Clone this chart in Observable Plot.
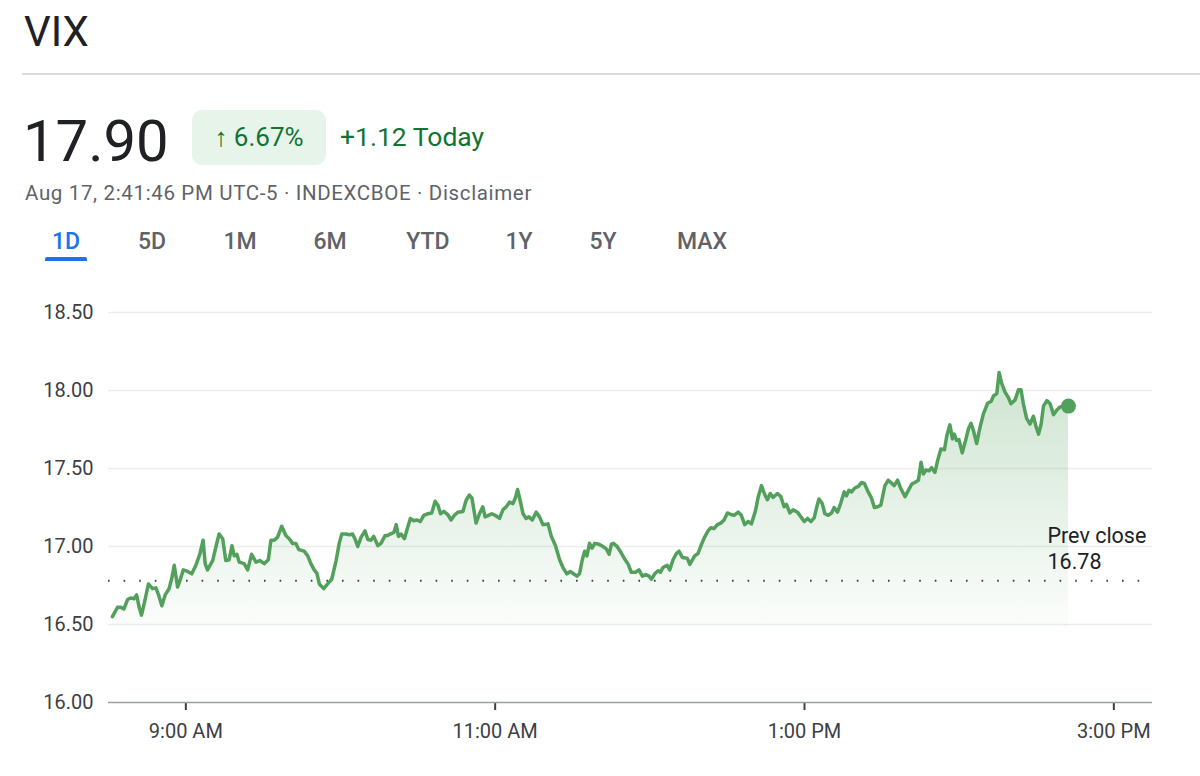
<!DOCTYPE html>
<html><head><meta charset="utf-8">
<script src="https://cdn.jsdelivr.net/npm/d3@7"></script>
<script src="https://cdn.jsdelivr.net/npm/@observablehq/plot@0.6"></script>
<style>
body{margin:0;background:#fff;width:1200px;height:776px;overflow:hidden;position:relative;font-family:Roboto,Arial,sans-serif;color:#202124}
.abs{position:absolute;white-space:nowrap;line-height:1}
.tab{position:absolute;top:230px;font-size:23px;font-weight:500;color:#5f6368;line-height:1;transform:translateX(-50%)}
</style></head><body>
<script>
// ---- data ----
const symbol = "VIX";
const lastPrice = "17.90";
const pctChange = "6.67%";
const absChange = "+1.12 Today";
const stamp = "Aug 17, 2:41:46 PM UTC-5 · INDEXCBOE · Disclaimer";
const tabs = ["1D", "5D", "1M", "6M", "YTD", "1Y", "5Y", "MAX"];
const prevClose = 16.78;
const yTicks = [16.00, 16.50, 17.00, 17.50, 18.00, 18.50];
const xTickHours = [9, 11, 13, 15];
// minutes after the 8:30 AM open
const minutes = [1.5,3.5,4.8,6.0,7.4,8.6,9.9,10.9,11.9,12.8,13.8,15.5,17.1,18.4,19.4,20.7,22.0,23.5,24.6,25.5,26.8,27.7,29.0,30.7,32.3,33.9,35.4,36.7,37.5,38.4,40.4,41.7,42.9,44.3,45.5,46.8,47.9,48.8,49.8,50.7,52.6,54.0,55.5,57.2,58.7,60.4,62.0,63.0,64.3,65.6,67.2,68.8,70.1,71.4,72.7,73.8,75.9,77.3,78.5,79.8,80.8,81.8,83.5,85.0,86.6,88.3,89.5,90.5,92.1,93.4,94.7,95.6,96.7,98.0,99.5,100.6,101.8,102.9,104.5,105.7,107.3,108.3,109.3,110.7,111.6,112.5,113.5,114.8,116.1,117.1,118.4,119.7,121.0,122.3,123.9,125.4,126.7,127.8,128.8,130.1,131.6,132.9,134.2,135.5,137.5,138.7,140.0,141.0,142.0,142.6,143.9,145.2,146.1,147.4,148.7,150.0,151.7,153.0,154.3,155.6,156.9,157.9,158.7,159.7,160.8,162.0,163.1,164.4,165.9,167.2,168.5,170.5,171.8,173.4,175.0,176.3,177.8,179.1,180.4,181.7,182.7,183.8,184.7,185.6,186.6,187.6,188.6,190.3,191.8,193.1,194.2,195.1,195.9,197.3,198.5,200.2,201.5,202.8,204.5,205.8,207.1,208.4,209.7,210.6,211.9,213.2,214.1,215.1,216.7,217.7,219.0,220.3,221.3,222.6,224.5,225.5,227.4,228.7,229.7,231.1,232.6,233.6,234.9,236.2,237.5,238.8,240.1,241.4,242.7,244.3,245.5,246.8,248.1,249.4,251.0,252.0,253.3,254.4,255.6,256.7,257.8,259.5,260.8,262.1,263.0,264.3,265.6,267.3,268.6,269.9,271.2,272.5,273.8,274.7,275.6,276.9,277.9,279.2,280.5,281.5,282.8,284.1,285.4,286.3,287.2,288.3,289.5,290.9,292.1,293.2,294.7,296.0,297.1,298.4,299.6,301.2,302.5,303.8,304.8,306.1,307.4,309.0,310.3,311.6,312.8,314.2,315.2,316.1,317.1,318.3,319.3,320.6,321.7,322.9,324.3,325.2,326.4,327.4,328.1,329.0,329.9,331.2,332.5,333.6,334.6,335.5,336.8,338.1,339.4,341.1,342.4,343.3,344.6,345.5,346.5,347.8,349.1,350.1,351.7,353.0,354.0,354.9,356.2,357.5,358.8,359.7,360.8,361.8,362.7,364.0,365.3,366.6,367.9,369.2,370.5,372.4];
const values = [16.55,16.61,16.61,16.60,16.66,16.67,16.665,16.69,16.61,16.56,16.63,16.76,16.73,16.735,16.69,16.62,16.69,16.73,16.80,16.88,16.74,16.78,16.85,16.84,16.825,16.88,16.95,17.04,16.89,16.85,16.91,17.00,17.08,17.05,16.91,16.915,17.005,16.94,16.95,16.90,16.89,16.85,16.95,16.90,16.91,16.89,16.915,17.04,17.04,17.06,17.13,17.07,17.05,17.02,17.02,16.98,16.97,16.94,16.89,16.85,16.83,16.76,16.73,16.76,16.79,16.91,17.02,17.08,17.08,17.075,17.08,17.05,17.00,17.06,17.10,17.045,17.04,17.065,17.005,17.02,17.07,17.07,17.08,17.09,17.14,17.065,17.08,17.05,17.125,17.18,17.165,17.17,17.16,17.20,17.21,17.215,17.29,17.265,17.21,17.225,17.205,17.17,17.20,17.22,17.225,17.295,17.33,17.31,17.21,17.15,17.21,17.255,17.19,17.20,17.21,17.20,17.18,17.235,17.255,17.285,17.275,17.315,17.365,17.295,17.21,17.18,17.19,17.17,17.22,17.19,17.14,17.145,17.065,17.005,16.915,16.865,16.825,16.84,16.825,16.81,16.825,16.915,16.97,16.94,17.02,16.99,17.02,17.015,17.00,16.985,16.95,17.015,17.02,17.00,16.97,16.92,16.89,16.835,16.835,16.85,16.81,16.82,16.81,16.79,16.825,16.845,16.835,16.865,16.88,16.85,16.915,16.955,16.97,16.93,16.925,16.885,16.94,16.955,17.00,17.055,17.10,17.12,17.115,17.14,17.15,17.17,17.215,17.205,17.20,17.22,17.20,17.14,17.16,17.145,17.23,17.315,17.39,17.34,17.30,17.34,17.315,17.34,17.32,17.255,17.27,17.215,17.235,17.22,17.19,17.16,17.18,17.16,17.185,17.25,17.305,17.275,17.21,17.20,17.215,17.25,17.22,17.28,17.35,17.325,17.36,17.35,17.375,17.385,17.41,17.405,17.35,17.31,17.25,17.255,17.265,17.39,17.425,17.405,17.39,17.425,17.37,17.32,17.36,17.40,17.41,17.425,17.54,17.465,17.49,17.485,17.505,17.475,17.555,17.625,17.62,17.71,17.78,17.69,17.72,17.68,17.685,17.60,17.68,17.755,17.79,17.745,17.66,17.765,17.85,17.92,17.93,17.965,17.98,18.115,18.045,17.99,17.955,17.915,17.94,18.005,18.005,17.915,17.82,17.785,17.835,17.775,17.72,17.785,17.90,17.935,17.915,17.845,17.875,17.895,17.90,17.90];
</script>

<div class="abs" style="left:24px;top:11px;font-size:42px;">VIX</div>
<div class="abs" style="left:22px;width:1178px;top:73px;height:1.5px;background:#dadce0"></div>
<div class="abs" id="price" style="left:23px;top:112px;font-size:58px;"></div>
<div class="abs" style="left:192px;top:110px;width:134px;height:55px;border-radius:10px;background:#e6f4ea;"></div>
<div class="abs" id="pct" style="left:192px;width:134px;text-align:center;top:124px;font-size:26px;color:#137333;font-weight:400"></div>
<div class="abs" id="abs" style="left:340px;top:124px;font-size:26.5px;color:#137333;font-weight:400"></div>
<div class="abs" id="stamp" style="left:25px;top:183px;font-size:20.5px;letter-spacing:0.65px;color:#5f6368"></div>
<div id="tabs"></div>
<div class="abs" style="left:45px;top:257px;width:42px;height:4px;border-radius:2px 2px 0 0;background:#1a73e8"></div>
<div id="chart" style="position:absolute;left:0;top:290px"></div>

<script>
document.getElementById("price").textContent = lastPrice;
document.getElementById("pct").textContent = "↑ " + pctChange;
document.getElementById("abs").textContent = absChange;
document.getElementById("stamp").textContent = stamp;
const tabX = [66, 152, 240, 330, 428, 519, 603, 702];
const tabsDiv = document.getElementById("tabs");
tabs.forEach((t, i) => {
  const d = document.createElement("div");
  d.className = "tab";
  d.style.left = tabX[i] + "px";
  if (i === 0) d.style.color = "#1a73e8";
  d.textContent = t;
  tabsDiv.appendChild(d);
});

const openTime = new Date(2023, 7, 17, 8, 30);
const toDate = m => new Date(openTime.getTime() + m * 60000);
const data = minutes.map((m, i) => ({t: toDate(m), v: values[i]}));
const last = data[data.length - 1];
const green = "#52a05b";
const xTicks = xTickHours.map(h => new Date(2023, 7, 17, h, 0));

const svg = Plot.plot({
  width: 1200,
  height: 486,
  marginLeft: 108,
  marginRight: 48,
  marginTop: 22,
  marginBottom: 74,
  style: {fontFamily: "Roboto, Arial, sans-serif", fontSize: "20px", color: "#3c4043", background: "transparent", overflow: "visible"},
  x: {type: "time", domain: [openTime, toDate(405)], ticks: xTicks, tickFormat: d3.timeFormat("%-I:%M %p"), tickSize: 8, tickPadding: 13, label: null},
  y: {domain: [16, 18.5], ticks: yTicks, tickFormat: d => d.toFixed(2), tickSize: 0, tickPadding: 15, label: null},
  marks: [
    Plot.ruleY(yTicks.slice(1), {stroke: "#ebedef", strokeWidth: 1.5}),
    Plot.areaY(data, {x: "t", y1: 16.48, y2: "v", fill: "url(#vixGrad)"}),
    Plot.ruleY([prevClose], {stroke: "#3c4043", strokeWidth: 2, strokeDasharray: "1.6 14"}),
    Plot.lineY(data, {x: "t", y: "v", stroke: green, strokeWidth: 3.5, strokeLinejoin: "round", strokeLinecap: "round"}),
    Plot.dot([last], {x: "t", y: "v", r: 7.5, fill: green, stroke: null}),
    Plot.text([last], {x: "t", y: () => prevClose, text: () => "Prev close\n" + prevClose.toFixed(2), textAnchor: "start", lineAnchor: "bottom", dx: -21, dy: -12, fontSize: 21.5, lineHeight: 1.2, fill: "#202124"}),
    Plot.ruleY([16], {stroke: "#9aa0a6", strokeWidth: 1.5})
  ]
});

const ys = svg.scale("y");
const defs = d3.select(svg).insert("defs", ":first-child");
const grad = defs.append("linearGradient").attr("id", "vixGrad")
  .attr("gradientUnits", "userSpaceOnUse")
  .attr("x1", 0).attr("x2", 0)
  .attr("y1", ys.apply(18.1)).attr("y2", ys.apply(16.48));
grad.append("stop").attr("offset", "0%").attr("stop-color", green).attr("stop-opacity", 0.28);
grad.append("stop").attr("offset", "100%").attr("stop-color", green).attr("stop-opacity", 0.02);

d3.select(svg).selectAll("[aria-label='x-axis tick'] path, [aria-label='x-axis tick'] line").attr("stroke-width", 2).attr("stroke", "#3c4043");
d3.select(svg).selectAll("[aria-label='x-axis tick-label'] text, [aria-label='y-axis tick-label'] text").attr("fill", "#3c4043");
d3.select(svg).selectAll("[aria-label='y-axis tick-label'] text").style("font-size", "22.5px");

document.getElementById("chart").appendChild(svg);
</script>
</body></html>
